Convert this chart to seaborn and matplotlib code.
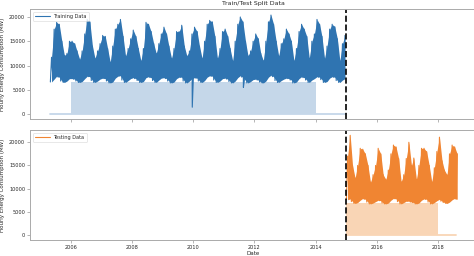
import numpy as np
import pandas as pd
import matplotlib
matplotlib.use("Agg")
import matplotlib.pyplot as plt
import matplotlib.dates as mdates
import seaborn as sns

# ---------------- data (monthly envelope of hourly load, MW) ----------------
train_start = "2005-05-01"
train_high = [
    11700, 17500, 18900, 18500, 15000, 12100, 12500, 15000,                              # 2005 May-Dec
    15000, 14500, 13000, 11300, 13000, 16500, 19500, 19000, 14000, 11500, 13000, 14500,  # 2006
    16200, 16000, 13500, 10700, 14000, 17500, 18500, 19500, 16000, 12000, 13500, 15500,  # 2007
    17300, 16000, 13500, 11000, 13500, 18900, 18500, 17000, 14500, 12500, 14500, 16500,  # 2008
    17900, 16500, 14000, 11500, 13500, 17000, 17000, 18300, 14000, 12000, 13000, 16500,  # 2009
    17900, 17000, 14000, 11500, 15000, 18500, 19300, 19000, 16000, 11500, 13500, 17000,  # 2010
    17500, 16000, 13500, 11000, 15000, 18500, 20000, 19000, 15000, 12000, 13000, 15000,  # 2011
    16500, 15500, 12500, 11000, 15000, 19000, 20400, 18500, 15000, 12000, 14500, 15500,  # 2012
    17500, 16500, 15000, 11000, 13500, 17000, 18500, 17500, 16000, 11500, 15000, 16500,  # 2013
    19500, 18500, 16000, 11500, 14000, 17500, 18500, 18000, 15500, 11000, 14500, 16200,  # 2014
]
train_low = [
    6600, 7200, 7800, 7600, 6800, 6500, 6800, 7300,
    7300, 7200, 6800, 6500, 6700, 7300, 7800, 7700, 6900, 6500, 6800, 7200,
    7400, 7300, 6800, 6400, 6600, 7400, 7800, 7900, 7000, 6500, 6900, 7300,
    7500, 7300, 6900, 6500, 6700, 7500, 7700, 7500, 6900, 6500, 7000, 7400,
    7500, 7300, 6800, 6400, 6600, 7300, 7600, 7600, 6800, 6400, 6800, 7300,
    7500, 7400, 6800, 6500, 6900, 7600, 7900, 7800, 7000, 6500, 6800, 7300,
    7400, 7200, 6700, 6400, 6800, 7500, 7900, 7600, 6900, 6400, 6700, 7100,
    7200, 7000, 6600, 6400, 6800, 7600, 8000, 7700, 6900, 6500, 6900, 7200,
    7400, 7300, 7000, 6400, 6600, 7300, 7700, 7500, 7000, 6500, 7000, 7300,
    7700, 7600, 7100, 6500, 6700, 7400, 7700, 7600, 6900, 6500, 7000, 7300,
]
# isolated low outliers in the training series
train_dip_dates = ["2009-12-20", "2011-08-22"]
train_dip_values = [1400, 5500]

test_start = "2015-01-01"
test_high = [
    17000, 21500, 15000, 12300, 15000, 18700, 18500, 17500, 15000, 11400, 13000, 15000,  # 2015
    18700, 17500, 13000, 12000, 14000, 17500, 19400, 19000, 16500, 11500, 13000, 16500,  # 2016
    20000, 15000, 16600, 12000, 15000, 18700, 18700, 18000, 15000, 11500, 14500, 18000,  # 2017
    21100, 16000, 14000, 13000, 17500, 19400, 19000, 17500,                              # 2018 Jan-Aug
]
test_low = [
    7600, 7800, 7200, 6800, 7000, 7500, 7900, 7700, 7100, 6700, 6900, 7200,
    7500, 7400, 6900, 6700, 6900, 7500, 7900, 7800, 7200, 6700, 7000, 7300,
    7300, 7100, 7000, 6700, 6900, 7500, 7800, 7700, 7100, 6700, 7000, 7400,
    7700, 7300, 7000, 6800, 7100, 7600, 7900, 7700,
]
test_dip_dates = []
test_dip_values = []

train_end = "2015-01-01"
test_end = "2018-08-03"
split_date = "2015-01-01"
train_band = ("2006-01-01", "2014-01-01", 6500)
test_band = ("2015-01-01", "2018-01-01", 7000)

blue = "#2f74b1"
orange = "#f08532"
light_blue = "#c5d7e9"
light_orange = "#f9d5b5"


def zigzag(start, highs, lows, dip_dates, dip_values):
    months = pd.date_range(start, periods=len(highs), freq="MS")
    rows = []
    for m, hi, lo in zip(months, highs, lows):
        rows.append((m + pd.Timedelta(days=1), lo))
        rows.append((m + pd.Timedelta(days=15), hi))
    for d, v in zip(dip_dates, dip_values):
        rows.append((pd.Timestamp(d), v))
    df = pd.DataFrame(rows, columns=["Date", "MW"]).sort_values("Date")
    return df.reset_index(drop=True), months


train_df, train_months = zigzag(train_start, train_high, train_low,
                                train_dip_dates, train_dip_values)
test_df, test_months = zigzag(test_start, test_high, test_low,
                              test_dip_dates, test_dip_values)

sns.set_style("white")
plt.rcParams["font.family"] = ["DejaVu Sans"]

fig = plt.figure(figsize=(4.74, 2.56), dpi=100)
ax1 = fig.add_axes([30 / 474, 1 - 119 / 256, 446 / 474, 109.7 / 256])
ax2 = fig.add_axes([30 / 474, 1 - 240 / 256, 446 / 474, 110 / 256], sharex=ax1)

for ax, df, months, hi, lo, col, lcol, band, start, end, lab in [
    (ax1, train_df, train_months, train_high, train_low, blue, light_blue,
     train_band, train_start, train_end, "Training Data"),
    (ax2, test_df, test_months, test_high, test_low, orange, light_orange,
     test_band, test_start, test_end, "Testing Data"),
]:
    b0, b1, bv = band
    ax.fill_between([pd.Timestamp(b0), pd.Timestamp(b1)], [0, 0], [bv, bv],
                    color=lcol, linewidth=0)
    ax.plot([pd.Timestamp(start), pd.Timestamp(end)], [60, 60], color=lcol, lw=1.3)
    ax.fill_between(months + pd.Timedelta(days=15), np.array(lo), np.array(hi),
                    color=col, linewidth=0)
    sns.lineplot(data=df, x="Date", y="MW", ax=ax, color=col, linewidth=0.8,
                 label=lab, sort=False)
    ax.axvline(pd.Timestamp(split_date), color="black", ls="--", lw=1.2)
    ax.set_ylabel("Hourly Energy Consumption (MW)", fontsize=4.0, labelpad=3)
    ax.set_yticks([0, 5000, 10000, 15000, 20000])
    ax.tick_params(axis="both", labelsize=3.6, length=2, width=0.5, color="#999999",
                   pad=1.5, left=True, bottom=True)
    for s in ax.spines.values():
        s.set_color("#aaaaaa")
        s.set_linewidth(0.7)
    leg = ax.legend(loc="upper left", fontsize=3.6, frameon=True, handlelength=3,
                    borderpad=0.4, fancybox=True)
    leg.get_frame().set_linewidth(0.4)
    leg.get_frame().set_edgecolor("#cccccc")

ax1.set_ylim(-1030, 21590)
ax2.set_ylim(-1080, 22650)
ax1.set_xlim(pd.Timestamp("2004-09-01"), pd.Timestamp("2019-03-28"))
ax2.xaxis.set_major_locator(mdates.YearLocator(2))
ax2.xaxis.set_major_formatter(mdates.DateFormatter("%Y"))
plt.setp(ax1.get_xticklabels(), visible=False)
ax1.set_xlabel("")
ax2.set_xlabel("Date", fontsize=4.0, labelpad=1)
ax1.set_title("Train/Test Split Data", fontsize=4.5, pad=3)

fig.savefig("out.png", dpi=100)
